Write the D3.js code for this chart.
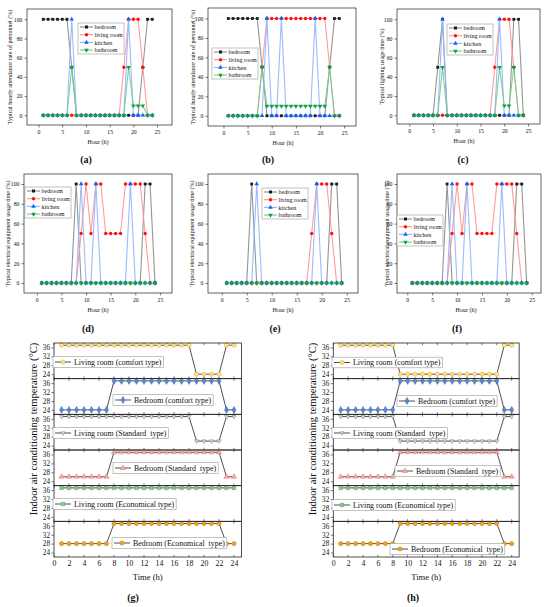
<!DOCTYPE html>
<html><head><meta charset="utf-8">
<script src="https://cdn.jsdelivr.net/npm/d3@7"></script>
<style>
body{margin:0;background:#fff}
text{font-family:"Liberation Serif","Times New Roman",serif;fill:#111}
</style>
</head><body>
<svg id="c" width="550" height="607"></svg>
<script>
// ---------- DATA ----------
const hours = [1,2,3,4,5,6,7,8,9,10,11,12,13,14,15,16,17,18,19,20,21,22,23,24];
const rooms = ["bedroom","living room","kitchen","bathroom"];
const xTicksHour = [0,5,10,15,20,25];
const yTicksPct = [0,20,40,60,80,100];
const xTicksTime = [0,2,4,6,8,10,12,14,16,18,20,22,24];
const yTicksTemp = [24,28,32,36];

const labAttend = "Typical hourly attendance rate of personnel (%)";
const labLight = "Typical lighting usage time (%)";
const labEquip = "Typical electrical equipment usage time (%)";
const labTemp = "Indoor air conditioning temperature (\u00B0C)";
const panelLabels = ["(a)","(b)","(c)","(d)","(e)","(f)","(g)","(h)"];

// (a) attendance, working pattern 1
const aBedroom  = [100,100,100,100,100,100,50,0,0,0,0,0,0,0,0,0,0,0,0,0,0,50,100,100];
const aLiving   = [0,0,0,0,0,0,0,0,0,0,0,0,0,0,0,0,0,50,100,100,100,50,0,0];
const aKitchen  = [0,0,0,0,0,0,100,0,0,0,0,0,0,0,0,0,0,0,100,0,0,0,0,0];
const aBathroom = [0,0,0,0,0,0,50,0,0,0,0,0,0,0,0,0,0,0,50,10,10,10,0,0];
// (b) attendance, at-home pattern
const bBedroom  = [100,100,100,100,100,100,100,50,0,0,0,0,0,0,0,0,0,0,0,0,0,50,100,100];
const bLiving   = [0,0,0,0,0,0,0,50,100,100,100,100,100,100,100,100,100,100,100,100,100,50,0,0];
const bKitchen  = [0,0,0,0,0,0,0,0,100,0,0,100,0,0,0,0,0,0,100,0,0,0,0,0];
const bBathroom = [0,0,0,0,0,0,0,50,10,10,10,10,10,10,10,10,10,10,10,10,10,50,0,0];
// (c) lighting
const cBedroom  = [0,0,0,0,0,50,100,0,0,0,0,0,0,0,0,0,0,0,0,0,0,100,100,0];
const cLiving   = [0,0,0,0,0,0,0,0,0,0,0,0,0,0,0,0,0,50,100,100,100,50,0,0];
const cKitchen  = [0,0,0,0,0,0,100,0,0,0,0,0,0,0,0,0,0,0,100,0,0,0,0,0];
const cBathroom = [0,0,0,0,0,0,50,0,0,0,0,0,0,0,0,0,0,0,50,10,10,50,0,0];
// (d) electrical equipment
const dBedroom  = [0,0,0,0,0,0,0,100,0,0,0,0,0,0,0,0,0,0,0,0,0,100,100,0];
const dLiving   = [0,0,0,0,0,0,0,0,50,100,50,100,100,50,50,50,50,100,100,100,100,50,0,0];
const dKitchen  = [0,0,0,0,0,0,0,0,100,0,0,100,0,0,0,0,0,0,100,0,0,0,0,0];
const dBathroom = [0,0,0,0,0,0,0,0,0,0,0,0,0,0,0,0,0,0,0,0,0,0,0,0];
// (e) electrical equipment
const eBedroom  = [0,0,0,0,0,100,0,0,0,0,0,0,0,0,0,0,0,0,0,0,0,100,100,0];
const eLiving   = [0,0,0,0,0,0,0,0,0,0,0,0,0,0,0,0,0,50,100,100,100,50,0,0];
const eKitchen  = [0,0,0,0,0,0,100,0,0,0,0,0,0,0,0,0,0,0,100,0,0,0,0,0];
const eBathroom = [0,0,0,0,0,0,0,0,0,0,0,0,0,0,0,0,0,0,0,0,0,0,0,0];
// (f) electrical equipment
const fBedroom  = [0,0,0,0,0,0,0,100,0,0,0,0,0,0,0,0,0,0,0,0,0,100,100,0];
const fLiving   = [0,0,0,0,0,0,0,0,50,100,50,100,100,50,50,50,50,100,100,100,100,50,0,0];
const fKitchen  = [0,0,0,0,0,0,0,0,100,0,0,100,0,0,0,0,0,0,100,0,0,0,0,0];
const fBathroom = [0,0,0,0,0,0,0,0,0,0,0,0,0,0,0,0,0,0,0,0,0,0,0,0];

// (g) air-conditioning set temperatures
const tempSeriesNames = ["Living room (comfort type)","Bedroom (comfort type)","Living room (Standard  type)",
  "Bedroom (Standard  type)","Living room (Economical type)","Bedroom (Economical  type)"];
const gLivComfort = [37,37,37,37,37,37,37,37,37,37,37,37,37,37,37,37,37,37,24,24,24,24,37,37];
const gBedComfort = [24,24,24,24,24,24,24,37,37,37,37,37,37,37,37,37,37,37,37,37,37,37,24,24];
const gLivStandard = [37,37,37,37,37,37,37,37,37,37,37,37,37,37,37,37,37,37,26,26,26,26,37,37];
const gBedStandard = [26,26,26,26,26,26,26,37,37,37,37,37,37,37,37,37,37,37,37,37,37,37,26,26];
const gLivEcon = [37,37,37,37,37,37,37,37,37,37,37,37,37,37,37,37,37,37,37,37,37,37,37,37];
const gBedEcon = [28,28,28,28,28,28,28,37,37,37,37,37,37,37,37,37,37,37,37,37,37,37,28,28];
// (h)
const hLivComfort = [37,37,37,37,37,37,37,37,24,24,24,24,24,24,24,24,24,24,24,24,24,24,37,37];
const hBedComfort = [24,24,24,24,24,24,24,24,37,37,37,37,37,37,37,37,37,37,37,37,37,37,24,24];
const hLivStandard = [37,37,37,37,37,37,37,37,26,26,26,26,26,26,26,26,26,26,26,26,26,26,37,37];
const hBedStandard = [26,26,26,26,26,26,26,26,37,37,37,37,37,37,37,37,37,37,37,37,37,37,26,26];
const hLivEcon = [37,37,37,37,37,37,37,37,37,37,37,37,37,37,37,37,37,37,37,37,37,37,37,37];
const hBedEcon = [28,28,28,28,28,28,28,28,37,37,37,37,37,37,37,37,37,37,37,37,37,37,28,28];

// ---------- STYLE / LAYOUT ----------
const svg = d3.select("#c");
const roomMarker = ["#1a1a1a","#ff1010","#1060ff","#10a040"];
const roomLine = ["#8a8a8a","#ff9090","#90b4ff","#70cc90"];
const roomSym = [d3.symbolSquare, d3.symbolCircle, d3.symbolTriangle, d3.symbolTriangle];
const roomRot = [0,0,0,180];

const topPanels = [
  {series:[aBedroom,aLiving,aKitchen,aBathroom], ylab:labAttend, box:[27,9,172,125], x1:43.3, x24:152.3, y0:115.3, y100:19.3, leg:[78,23], lab:[86,163], hx:98, ylx:10},
  {series:[bBedroom,bLiving,bKitchen,bBathroom], ylab:labAttend, box:[208,8,356,126], x1:228.3, x24:339.3, y0:115.8, y100:18.5, leg:[212,48], lab:[268,163], hx:283, ylx:193},
  {series:[cBedroom,cLiving,cKitchen,cBathroom], ylab:labLight, box:[397,9,540,124], x1:414, x24:523.3, y0:115.3, y100:19.3, leg:[447,24], lab:[463,163], hx:464, ylx:382},
  {series:[dBedroom,dLiving,dKitchen,dBathroom], ylab:labEquip, box:[24,174,172,293], x1:41.7, x24:155, y0:283, y100:184, leg:[25,187], lab:[88,332], hx:98, ylx:8},
  {series:[eBedroom,eLiving,eKitchen,eBathroom], ylab:labEquip, box:[208,174,358,293], x1:226.7, x24:341.7, y0:283, y100:184, leg:[262,188], lab:[275,332], hx:283, ylx:192},
  {series:[fBedroom,fLiving,fKitchen,fBathroom], ylab:labEquip, box:[397,174,541,293], x1:412.3, x24:526.7, y0:283, y100:184, leg:[397,215], lab:[457,332], hx:466, ylx:387}
];

function sym(type,size,rot){ return "rotate("+rot+")"; }

topPanels.forEach((p,pi)=>{
  const [bx1,by1,bx2,by2] = p.box;
  const x = d3.scaleLinear().domain([1,24]).range([p.x1,p.x24]);
  const y = d3.scaleLinear().domain([0,100]).range([p.y0,p.y100]);
  const g = svg.append("g");
  // axes
  const xa = g.append("g").attr("transform","translate(0,"+by2+")")
    .call(d3.axisBottom(x).tickValues(xTicksHour).tickSize(2.5).tickPadding(2));
  const ya = g.append("g").attr("transform","translate("+bx1+",0)")
    .call(d3.axisLeft(y).tickValues(yTicksPct).tickSize(2.5).tickPadding(2));
  [xa,ya].forEach(a=>{a.select(".domain").remove();
    a.selectAll("line").attr("stroke","#222").attr("stroke-width",0.6);
    a.selectAll("text").attr("font-size",5.8).attr("font-family","Liberation Serif").attr("fill","#111");});
  g.append("rect").attr("x",bx1).attr("y",by1).attr("width",bx2-bx1).attr("height",by2-by1)
    .attr("fill","none").attr("stroke","#222").attr("stroke-width",0.7);
  // series
  p.series.forEach((vals,si)=>{
    const pts = hours.map((h,i)=>[h,vals[i]]);
    g.append("path").datum(pts)
      .attr("d",d3.line().x(d=>x(d[0])).y(d=>y(d[1])))
      .attr("fill","none").attr("stroke",roomLine[si]).attr("stroke-width",1.1).attr("stroke-opacity",0.9);
    g.selectAll(null).data(pts).enter().append("path")
      .attr("d",d3.symbol().type(roomSym[si]).size(si===0?8:9))
      .attr("transform",d=>"translate("+x(d[0])+","+y(d[1])+") rotate("+roomRot[si]+")")
      .attr("fill",roomMarker[si]);
  });
  // legend
  const [lx,ly] = p.leg;
  const lg = g.append("g");
  lg.append("rect").attr("x",lx).attr("y",ly).attr("width",46).attr("height",31)
    .attr("fill","#fff").attr("stroke","#999").attr("stroke-width",0.6);
  rooms.forEach((r,si)=>{
    const yy = ly+4+si*7.7;
    lg.append("line").attr("x1",lx+2).attr("x2",lx+15).attr("y1",yy).attr("y2",yy)
      .attr("stroke",roomLine[si]).attr("stroke-width",1.1);
    lg.append("path").attr("d",d3.symbol().type(roomSym[si]).size(9))
      .attr("transform","translate("+(lx+8.5)+","+yy+") rotate("+roomRot[si]+")").attr("fill",roomMarker[si]);
    lg.append("text").attr("x",lx+16.5).attr("y",yy).attr("dy","0.35em").attr("font-size",6).text(r);
  });
  // labels
  g.append("text").attr("x",p.hx).attr("y",by2+19).attr("text-anchor","middle").attr("font-size",6).text("Hour (h)");
  g.append("text").attr("transform","translate("+p.ylx+","+((by1+by2)/2)+") rotate(-90)")
    .attr("text-anchor","middle").attr("dy","0.35em").attr("font-size",6).text(p.ylab);
  g.append("text").attr("x",p.lab[0]).attr("y",p.lab[1]).attr("text-anchor","middle")
    .attr("font-size",10).attr("font-weight","bold").text(panelLabels[pi]);
});

// ---------- TEMPERATURE PANELS ----------
const tempStyles = [
  {type:d3.symbolCircle, size:14, fill:"#fde48a", stroke:"#e0a000", rot:0},
  {type:d3.symbolDiamond, size:14, fill:"#5a8ad6", stroke:"#3a64a8", rot:0},
  {type:d3.symbolTriangle, size:8, fill:"#d8d8d8", stroke:"#808080", rot:180},
  {type:d3.symbolTriangle, size:12, fill:"#f6a8a2", stroke:"#e07870", rot:0},
  {type:d3.symbolSquare, size:12, fill:"#90c890", stroke:"#4e9a4e", rot:0},
  {type:d3.symbolCircle, size:14, fill:"#f2a420", stroke:"#b87800", rot:0}
];
const tempPanels = [
  {series:[gLivComfort,gBedComfort,gLivStandard,gBedStandard,gLivEcon,gBedEcon], x0:54, x24:234, top:343, bottom:557, ylx:33, lab:[133,601],
   legs:[[53,362],[113,400],[53,433],[113,468],[53,504],[112,543]]},
  {series:[hLivComfort,hBedComfort,hLivStandard,hBedStandard,hLivEcon,hBedEcon], x0:333.3, x24:511.7, top:343, bottom:557, ylx:312, lab:[413,601],
   legs:[[332,362.5],[397,401],[332,433],[395,471],[332,505],[390,549]]}
];

tempPanels.forEach((p,pi)=>{
  const x = d3.scaleLinear().domain([0,24]).range([p.x0,p.x24]);
  const xr = x(25);
  const g = svg.append("g");
  const sh = (p.bottom-p.top)/6;
  p.series.forEach((vals,si)=>{
    const t = p.top+si*sh, b = t+sh;
    const y = d3.scaleLinear().domain([22,38]).range([b,t]);
    // y axis
    const ya = g.append("g").attr("transform","translate("+p.x0+",0)")
      .call(d3.axisLeft(y).tickValues(yTicksTemp).tickSize(2.5).tickPadding(1.5));
    ya.select(".domain").remove();
    ya.selectAll("line").attr("stroke","#222").attr("stroke-width",0.6);
    ya.selectAll("text").attr("font-size",7.2).attr("font-family","Liberation Serif").attr("fill","#111");
    // inward x ticks at top and bottom
    g.selectAll(null).data(xTicksTime).enter().append("line")
      .attr("x1",d=>x(d)).attr("x2",d=>x(d)).attr("y1",b).attr("y2",b-2.2)
      .attr("stroke","#222").attr("stroke-width",0.6);
    g.selectAll(null).data(xTicksTime).enter().append("line")
      .attr("x1",d=>x(d)).attr("x2",d=>x(d)).attr("y1",t).attr("y2",t+2.2)
      .attr("stroke","#222").attr("stroke-width",0.6);
    // series
    const pts = hours.map((h,i)=>[h,vals[i]]);
    const st = tempStyles[si];
    g.append("path").datum(pts).attr("d",d3.line().x(d=>x(d[0])).y(d=>y(d[1])))
      .attr("fill","none").attr("stroke","#3c3c3c").attr("stroke-width",0.9);
    g.selectAll(null).data(pts).enter().append("path")
      .attr("d",d3.symbol().type(st.type).size(st.size))
      .attr("transform",d=>"translate("+x(d[0])+","+y(d[1])+") rotate("+st.rot+")")
      .attr("fill",st.fill).attr("stroke",st.stroke).attr("stroke-width",0.5);
    // subpanel frame
    g.append("rect").attr("x",p.x0).attr("y",t).attr("width",xr-p.x0).attr("height",sh)
      .attr("fill","none").attr("stroke","#222").attr("stroke-width",0.8);
    // legend
    const [lx,ly] = p.legs[si];
    const lg = g.append("g");
    const rect = lg.append("rect").attr("x",lx).attr("y",ly-5.3).attr("height",10.6)
      .attr("fill","#fff").attr("stroke","#9a9a9a").attr("stroke-width",0.6);
    lg.append("line").attr("x1",lx+2).attr("x2",lx+18).attr("y1",ly).attr("y2",ly)
      .attr("stroke","#3c3c3c").attr("stroke-width",0.9);
    lg.append("path").attr("d",d3.symbol().type(st.type).size(st.size))
      .attr("transform","translate("+(lx+10)+","+ly+") rotate("+st.rot+")")
      .attr("fill",st.fill).attr("stroke",st.stroke).attr("stroke-width",0.5);
    const tx = lg.append("text").attr("x",lx+21).attr("y",ly).attr("dy","0.35em")
      .attr("font-size",7.9).style("white-space","pre").attr("xml:space","preserve").text(tempSeriesNames[si]);
    const w = tx.node().getComputedTextLength();
    rect.attr("width",w+23);
  });
  // x axis labels
  const xa = g.append("g").attr("transform","translate(0,"+p.bottom+")")
    .call(d3.axisBottom(x).tickValues(xTicksTime).tickSize(0).tickPadding(3));
  xa.select(".domain").remove();
  xa.selectAll("text").attr("font-size",7.8).attr("font-family","Liberation Serif").attr("fill","#111");
  g.append("text").attr("x",(p.x0+xr)/2).attr("y",580).attr("text-anchor","middle").attr("font-size",8.6).text("Time (h)");
  g.append("text").attr("transform","translate("+p.ylx+",429) rotate(-90)")
    .attr("text-anchor","middle").attr("dy","0.35em").attr("font-size",10.6).text(labTemp);
  g.append("text").attr("x",p.lab[0]).attr("y",p.lab[1]).attr("text-anchor","middle")
    .attr("font-size",10).attr("font-weight","bold").text(panelLabels[6+pi]);
});
</script>
</body></html>
